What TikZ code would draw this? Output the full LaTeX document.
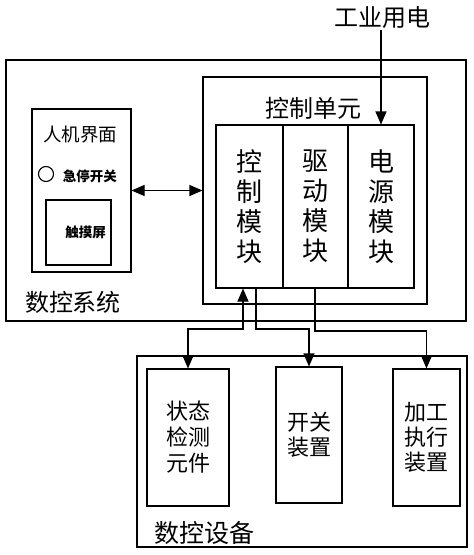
\documentclass[tikz,border=0pt]{standalone}
\usepackage{fontspec}
\newfontfamily\cjk{Noto Sans CJK SC}
\usetikzlibrary{arrows.meta}
\begin{document}
\begin{tikzpicture}[x=1pt,y=-1pt]
     % Styles
\tikzset{box/.style={draw,line width=1.1pt,inner sep=0pt},
  arr/.style={line width=1.1pt,-{Triangle[length=13pt,width=11pt]}},
  dbl/.style={line width=1.1pt,{Triangle[length=13pt,width=11pt]}-{Triangle[length=13pt,width=11pt]}}}
\useasboundingbox (0,0) rectangle (474,555);
% Draw the numerical control system
\node [box,minimum width=460pt,minimum height=261pt] (sys) at (236,190.5) {};
\node [box,minimum width=224pt,minimum height=227pt] (unit) at (315,190.5) {};
\node [font=\cjk\fontsize{24}{24}\selectfont] (unitlabel) at (313,108) {控制单元};
\node [font=\cjk\fontsize{24}{24}\selectfont] (syslabel) at (73,302) {数控系统};
% the three modules
\foreach \n/\x/\w/\t in {ctrl/249.5/67/{控\\制\\模\\块},drv/315.5/65/{驱\\动\\模\\块},pwr/381/66/{电\\源\\模\\块}} {
\node [box,minimum width=\w pt,minimum height=163pt,align=center,
  font=\cjk\fontsize{26}{30}\selectfont] (\n) at (\x,206.5) {\t};
}
% the operator panel
\node [box,minimum width=99pt,minimum height=163pt] (hmi) at (81.5,190.5) {};
\node [font=\cjk\fontsize{18.5}{18.5}\selectfont] (hmilabel) at (80,135) {人机界面};
\node [draw,circle,line width=1.1pt,minimum size=15pt,inner sep=0pt] (estop) at (46,174) {};
\node [font=\cjk\bfseries\fontsize{13.5}{13.5}\selectfont] (estoplabel) at (90,176) {急停开关};
\node [box,minimum width=65pt,minimum height=65pt,
  font=\cjk\bfseries\fontsize{13.5}{13.5}\selectfont] (touch) at (78.5,232.5) {\hspace*{14pt}触摸屏};
% the power supply
\node [font=\cjk\fontsize{24}{24}\selectfont,inner sep=2pt] (mains) at (382,17) {工业用电};
\draw [arr] (mains.south -| pwr.north) -- (pwr.north);
\draw [dbl] (hmi.east) -- (unit.west);
% Draw the numerical control equipment
\node [box,minimum width=330pt,minimum height=191pt] (dev) at (302,451.5) {};
\node [font=\cjk\fontsize{25}{25}\selectfont] (devlabel) at (204,533) {数控设备};
\node [box,minimum width=82pt,minimum height=137pt,align=center,
  font=\cjk\fontsize{22}{26}\selectfont] (sensor) at (188,437.5) {状态\\检测\\元件};
\node [box,minimum width=66pt,minimum height=136pt,align=center,
  font=\cjk\fontsize{22}{25}\selectfont] (switch) at (309,435) {开关\\装置};
\node [box,minimum width=67pt,minimum height=137pt,align=center,
  font=\cjk\fontsize{22}{25}\selectfont] (exec) at (426.5,437.5) {加工\\执行\\装置};
% the connections
\coordinate (j1) at (243,329);
\coordinate (j2) at (256,329);
\coordinate (j3) at (315,331);
\draw [dbl] (ctrl.south -| j1) -- (j1) -| (sensor.north);
\draw [arr] (ctrl.south -| j2) -- (j2) -| (switch.north);
\draw [arr] (drv.south -| j3) -- (j3) -| (exec.north);
\end{tikzpicture}
\end{document}
